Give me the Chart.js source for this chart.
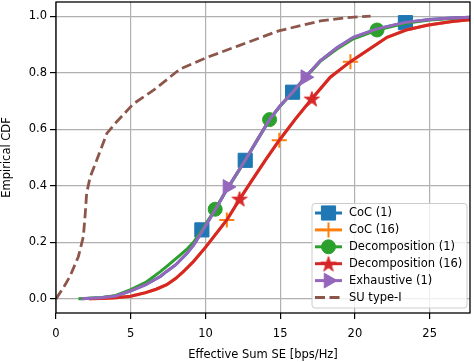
<!DOCTYPE html>
<html>
<head>
<meta charset="utf-8">
<script src="https://cdn.jsdelivr.net/npm/chart.js@4.4.1/dist/chart.umd.min.js"></script>
<style>
  html, body { margin: 0; padding: 0; background: #fff; }
  canvas { display: block; }
</style>
</head>
<body>
<canvas id="cdfChart" width="474" height="362"></canvas>
<script>
const xTicks = [0, 5, 10, 15, 20, 25];
const yTicks = [0, 0.2, 0.4, 0.6, 0.8, 1.0];
const seriesNames = ['CoC (1)', 'CoC (16)', 'Decomposition (1)', 'Decomposition (16)', 'Exhaustive (1)', 'SU type-I'];

// empirical CDF curves (x = sum SE, y = CDF)
const coc1X = [1.7, 3, 4, 5, 6, 7, 7.4, 8, 8.75, 9.2, 9.76, 10.65, 11.47, 12.12, 12.66, 13.5, 14.29, 15, 15.83, 16.68, 17.68, 18.8, 19.9, 21.48, 23.38, 25, 26.5, 27.7];
const coc1Y = [0, 0.004, 0.01, 0.028, 0.05, 0.08, 0.097, 0.12, 0.16, 0.19, 0.237, 0.315, 0.39, 0.445, 0.49, 0.565, 0.634, 0.683, 0.731, 0.784, 0.842, 0.888, 0.925, 0.955, 0.978, 0.988, 0.993, 0.996];
const coc16X = [2.2, 3, 4, 5, 6, 6.7, 7.41, 8, 8.5, 9.2, 10, 11.43, 12.28, 13, 14, 14.94, 16, 17.12, 18.35, 19.35, 19.7, 21, 22.15, 23.5, 24.83, 26.5, 27.7];
const coc16Y = [0, 0.001, 0.004, 0.009, 0.022, 0.034, 0.05, 0.072, 0.095, 0.132, 0.182, 0.279, 0.352, 0.41, 0.49, 0.561, 0.635, 0.708, 0.784, 0.825, 0.839, 0.885, 0.925, 0.952, 0.968, 0.981, 0.987];
const dec1X = [1.5, 3, 4, 5, 6, 7, 7.41, 8.3, 8.8, 9.2, 9.76, 10.65, 11.47, 12.12, 12.66, 13.5, 14.29, 15, 15.83, 16.68, 17.68, 18.8, 19.9, 21.48, 23.38, 25, 26.5, 27.7];
const dec1Y = [0, 0.004, 0.012, 0.033, 0.058, 0.097, 0.115, 0.155, 0.178, 0.2, 0.243, 0.317, 0.39, 0.444, 0.49, 0.565, 0.634, 0.682, 0.73, 0.782, 0.84, 0.884, 0.92, 0.951, 0.975, 0.986, 0.992, 0.995];
const dec16X = [2.2, 3, 4, 5, 6, 6.7, 7.41, 8, 8.5, 9.2, 10, 11.43, 12.28, 13, 14, 14.94, 16, 17.12, 18.35, 19.35, 19.7, 21, 22.15, 23.5, 24.83, 26.5, 27.7];
const dec16Y = [0, 0.001, 0.004, 0.009, 0.022, 0.034, 0.05, 0.072, 0.095, 0.132, 0.182, 0.279, 0.352, 0.41, 0.49, 0.561, 0.635, 0.708, 0.784, 0.825, 0.839, 0.885, 0.925, 0.952, 0.968, 0.981, 0.987];
const exh1X = [1.7, 3, 4, 5, 6, 7, 7.4, 8, 8.75, 9.2, 9.76, 10.65, 11.47, 12.12, 12.66, 13.5, 14.29, 15, 15.83, 16.68, 17.68, 18.8, 19.9, 21.48, 23.38, 25, 26.5, 27.7];
const exh1Y = [0, 0.004, 0.01, 0.028, 0.05, 0.08, 0.097, 0.12, 0.16, 0.19, 0.237, 0.315, 0.39, 0.445, 0.49, 0.565, 0.634, 0.683, 0.731, 0.784, 0.842, 0.888, 0.925, 0.955, 0.978, 0.988, 0.993, 0.996];
const suX = [0, 0.5, 0.94, 1.5, 1.83, 1.94, 2.05, 2.28, 2.72, 3.4, 3.95, 5.18, 6.5, 8.3, 10.1, 12.2, 14.9, 17.7, 19.5, 21.05];
const suY = [0, 0.04, 0.08, 0.15, 0.22, 0.29, 0.373, 0.43, 0.49, 0.585, 0.62, 0.69, 0.737, 0.813, 0.854, 0.895, 0.948, 0.983, 0.995, 1.0];

// where the markers sit on each curve
const coc1MarkX = [9.76, 12.66, 15.83, 23.38];
const coc1MarkY = [0.244, 0.49, 0.731, 0.977];
const coc16MarkX = [11.43, 14.94, 19.7];
const coc16MarkY = [0.279, 0.561, 0.839];
const dec1MarkX = [10.65, 14.29, 21.48];
const dec1MarkY = [0.317, 0.634, 0.951];
const dec16MarkX = [12.28, 17.12];
const dec16MarkY = [0.354, 0.708];
const exh1MarkX = [11.47, 16.68];
const exh1MarkY = [0.396, 0.784];

const pts = (xs, ys) => xs.map((x, i) => ({ x: x, y: ys[i] }));

function makeStar(r, color) {
    const c = document.createElement('canvas');
    const s = Math.ceil(r * 2 + 4);
    c.width = s; c.height = s;
    const g = c.getContext('2d');
    g.translate(s / 2, s / 2 + 0.8);
    g.beginPath();
    for (let i = 0; i < 10; i++) {
        const rr = i % 2 ? r * 0.382 : r;
        const a = -Math.PI / 2 + i * Math.PI / 5;
        g.lineTo(rr * Math.cos(a), rr * Math.sin(a));
    }
    g.closePath();
    g.fillStyle = color; g.fill();
    g.strokeStyle = color; g.lineWidth = 1; g.stroke();
    return c;
}

const series = [
    { line: pts(coc1X, coc1Y), marks: pts(coc1MarkX, coc1MarkY), color: '#1f77b4', style: 'rect', radius: 10, rot: 0, bw: 1 },
    { line: pts(coc16X, coc16Y), marks: pts(coc16MarkX, coc16MarkY), color: '#ff7f0e', style: 'cross', radius: 7.5, rot: 0, bw: 2 },
    { line: pts(dec1X, dec1Y), marks: pts(dec1MarkX, dec1MarkY), color: '#2ca02c', style: 'circle', radius: 7, rot: 0, bw: 1 },
    { line: pts(dec16X, dec16Y), marks: pts(dec16MarkX, dec16MarkY), color: '#d62728', style: makeStar(8, '#d62728'), radius: 8, rot: 0, bw: 1 },
    { line: pts(exh1X, exh1Y), marks: pts(exh1MarkX, exh1MarkY), color: '#9467bd', style: 'triangle', radius: 8.5, rot: 90, bw: 1 },
    { line: pts(suX, suY), marks: null, color: '#8c564b', dash: [10, 4.5] }
];

const datasets = [];
series.forEach((s, k) => {
    datasets.push({
        label: seriesNames[k],
        data: s.line,
        borderColor: s.color,
        borderWidth: s.dash ? 2.8 : 3,
        borderDash: s.dash || [],
        borderCapStyle: 'butt',
        pointRadius: 0,
        tension: 0,
        showLine: true,
        order: 20 - 2 * k
    });
    if (s.marks) {
        datasets.push({
            label: seriesNames[k] + ' marks',
            data: s.marks,
            showLine: false,
            pointStyle: s.style,
            pointRadius: s.radius,
            pointRotation: s.rot,
            pointBackgroundColor: s.color,
            pointBorderColor: s.color,
            pointBorderWidth: s.bw,
            order: 19 - 2 * k
        });
    }
});

const font = { family: 'DejaVu Sans', size: 11.5 };

const framePlugin = {
    id: 'frame',
    afterDatasetsDraw(chart) {
        const { ctx, chartArea: a } = chart;
        ctx.save();
        ctx.strokeStyle = '#000';
        ctx.lineWidth = 1.3;
        ctx.strokeRect(a.left, a.top, a.right - a.left, a.bottom - a.top);
        ctx.restore();
    }
};

const legendPlugin = {
    id: 'mplLegend',
    afterDraw(chart) {
        const { ctx, chartArea: a } = chart;
        const w = 155, h = 104.5;
        const left = a.right - 3 - w, top = a.bottom - 5 - h;
        ctx.save();
        ctx.beginPath();
        ctx.roundRect(left, top, w, h, 3);
        ctx.fillStyle = 'rgba(255,255,255,0.8)';
        ctx.fill();
        ctx.strokeStyle = '#cccccc';
        ctx.lineWidth = 1;
        ctx.stroke();
        series.forEach((s, i) => {
            const y = top + 9.5 + i * 16.9;
            ctx.beginPath();
            ctx.setLineDash(s.dash || []);
            ctx.strokeStyle = s.color;
            ctx.lineWidth = s.dash ? 2.8 : 3;
            ctx.moveTo(left + 3, y);
            ctx.lineTo(left + 30, y);
            ctx.stroke();
            ctx.setLineDash([]);
            if (s.marks) {
                ctx.fillStyle = s.color;
                ctx.strokeStyle = s.color;
                ctx.lineWidth = s.bw;
                Chart.helpers.drawPoint(ctx, { pointStyle: s.style, rotation: s.rot, radius: s.radius, borderWidth: s.bw }, left + 16.5, y);
            }
            ctx.fillStyle = '#000';
            ctx.font = '11.5px "DejaVu Sans"';
            ctx.textBaseline = 'middle';
            ctx.textAlign = 'left';
            ctx.fillText(seriesNames[i], left + 37, y + 0.5);
        });
        ctx.restore();
    }
};

new Chart(document.getElementById('cdfChart').getContext('2d'), {
    type: 'scatter',
    data: { datasets: datasets },
    options: {
        responsive: false,
        animation: false,
        devicePixelRatio: 1,
        layout: { autoPadding: false, padding: { left: 0, right: 4, top: 2, bottom: 0 } },
        plugins: { legend: { display: false }, tooltip: { enabled: false } },
        scales: {
            x: {
                type: 'linear',
                min: 0,
                max: 27.7,
                afterBuildTicks: axis => { axis.ticks = xTicks.map(v => ({ value: v })); },
                afterFit: scale => { scale.height = 49; scale.paddingLeft = 0; scale.paddingRight = 0; },
                grid: { color: '#b0b0b0', lineWidth: 1.2, tickColor: '#000', tickWidth: 1.2, tickLength: 6 },
                border: { display: false },
                ticks: { color: '#000', font: font, padding: 8, maxRotation: 0, callback: v => String(v) },
                title: { display: true, text: 'Effective Sum SE [bps/Hz]', color: '#000', font: font, padding: { top: 0, bottom: 0 } }
            },
            y: {
                type: 'linear',
                min: -0.05,
                max: 1.05,
                afterBuildTicks: axis => { axis.ticks = yTicks.map(v => ({ value: v })); },
                afterFit: scale => { scale.width = 56; scale.paddingTop = 0; scale.paddingBottom = 0; },
                grid: { color: '#b0b0b0', lineWidth: 1.2, tickColor: '#000', tickWidth: 1.2, tickLength: 6 },
                border: { display: false },
                ticks: { color: '#000', font: font, padding: 3, callback: v => v.toFixed(1) },
                title: { display: true, text: 'Empirical CDF', color: '#000', font: font, padding: { top: 0, bottom: 0 } }
            }
        }
    },
    plugins: [framePlugin, legendPlugin]
});
</script>
</body>
</html>
